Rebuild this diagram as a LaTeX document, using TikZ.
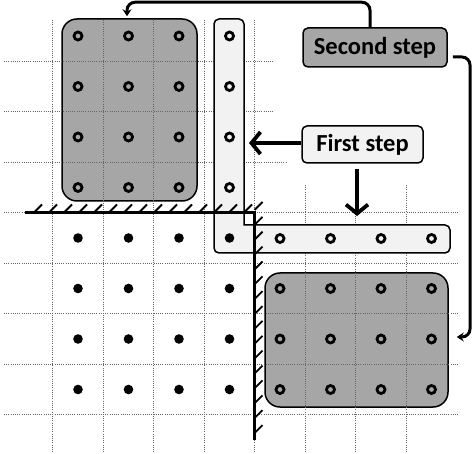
\documentclass[tikz,border=0pt]{standalone}
\usepackage{fontspec}
\setmainfont{Carlito}
\usetikzlibrary{arrows.meta,calc}
\definecolor{blockgray}{HTML}{A6A6A6}
\definecolor{barlight}{HTML}{F2F2F2}
\begin{document}
\begin{tikzpicture}[x=1pt,y=-1pt,
  grayblock/.style={draw=black, line width=1.5pt, fill=blockgray, rounded corners=15pt, inner sep=0pt},
  gridline/.style={draw=black!60, line width=0.8pt, dash pattern=on 0.9pt off 1.3pt},
  lightbar/.style={draw=black, line width=1.5pt, fill=barlight},
  opendot/.style={draw=black, line width=2.8pt},
  filldot/.style={fill=black},
  wall/.style={draw=black, line width=2.8pt},
  hatch/.style={draw=black, line width=1.8pt},
  labelbox/.style={draw=black, line width=1.5pt, rounded corners=5pt, inner sep=0pt, font=\fontsize{24.5}{28}\selectfont\bfseries},
  conn/.style={draw=black, line width=3pt, rounded corners=8pt, -{Stealth[length=7pt,width=9pt,inset=2.5pt]}},
  bigarrow/.style={draw=black, line width=3.8pt, -{Straight Barb[length=9pt,width=22pt]}}
]
\useasboundingbox (0,0) rectangle (474,454);
% gray blocks
\node[grayblock, minimum width=135pt, minimum height=182pt] (blockA) at (129.5,110) {};
\node[grayblock, minimum width=183pt, minimum height=134pt] (blockB) at (356.5,340) {};
% grid
\foreach \k in {0,...,4} \draw[gridline] (52.75+50.5*\k,20) -- (52.75+50.5*\k,453);
\foreach \k in {5,6,7} \draw[gridline] (52.75+50.5*\k,185) -- (52.75+50.5*\k,453);
\draw[gridline] (4,61.25) -- (273,61.25);
\draw[gridline] (4,111.75) -- (273,111.75);
\draw[gridline] (4,162.25) -- (287,162.25);
\foreach \k in {3,...,7} \draw[gridline] (4,61.25+50.5*\k) -- (458,61.25+50.5*\k);
% light L bar
\draw[lightbar] (214,19) [rounded corners=5pt] -- (244,19) [sharp corners] -- (244,225) [rounded corners=5pt] -- (450,225) -- (450,253) -- (214,253) -- cycle;
% dots
\foreach \i in {0,1,2,3} \foreach \j in {0,1,2,3} \draw[opendot] (78+50.5*\i,36+50.5*\j) circle[radius=4pt];
\foreach \i in {4,5,6,7} \draw[opendot] (78+50.5*\i,238.5) circle[radius=4pt];
\foreach \i in {4,5,6,7} \foreach \j in {5,6,7} \draw[opendot] (78+50.5*\i,36+50.5*\j) circle[radius=4pt];
\foreach \i in {0,1,2,3} \foreach \j in {4,5,6,7} \fill[filldot] (78+50.5*\i,36+50.5*\j) circle[radius=4.8pt];
% walls
\draw[wall] (25,212.5) -- (255.9,212.5);
\foreach \k in {0,...,14} \draw[hatch] (34+15*\k,212.5) -- ++(8,-8);
\draw[wall] (254.5,211.1) -- (254.5,440);
\foreach \k in {0,...,15} \draw[hatch] (254.5,210+14.87*\k) -- ++(8,-8);
% labels
\node[labelbox, fill=blockgray, minimum width=144pt, minimum height=39pt] (second) at (375,47.5) {Second step};
\node[labelbox, fill=barlight, minimum width=121pt, minimum height=37pt] (first) at (362.5,144.5) {First step};
\coordinate (barpt) at (249,143);
\coordinate (hbarpt) at (357,216);
% arrows
\draw[bigarrow] (first.west |- barpt) -- (barpt);
\draw[bigarrow] (first.south -| hbarpt) ++(0,5) -- (hbarpt);
\draw[conn] ([xshift=-5pt]second.north) -- ++(0,-25) -| ([xshift=-2.5pt,yshift=2pt]blockA.north);
\draw[conn] ($(second.east)+(5,9.5)$) -- (470,57) -- (470,337) -- ($(blockB.east |- 0,337)+(8,0)$);
\end{tikzpicture}
\end{document}
